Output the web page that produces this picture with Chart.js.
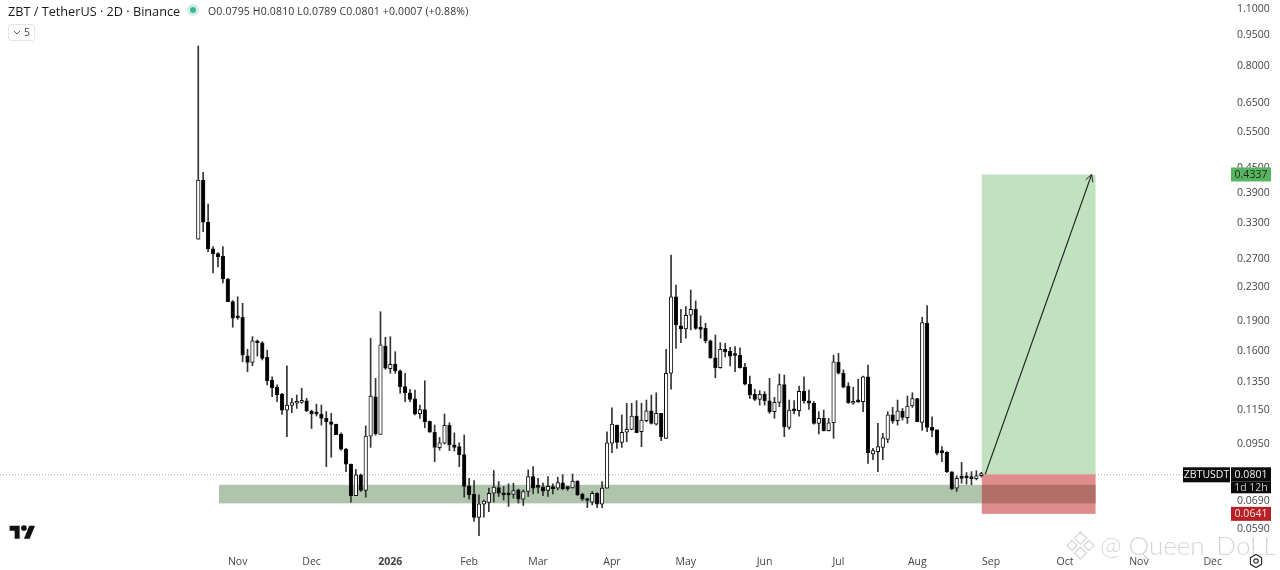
<!DOCTYPE html>
<html>
<head>
<meta charset="utf-8">
<title>ZBT / TetherUS</title>
<script src="https://cdn.jsdelivr.net/npm/chart.js@4"></script>
<style>
    html, body { margin: 0; padding: 0; background: #fff; overflow: hidden; }
    #wrap { position: relative; width: 1280px; height: 570px; font-family: "Open Sans", sans-serif; color: #222; }
    canvas { position: absolute; left: 0; top: 0; }
    .abs { position: absolute; white-space: nowrap; }
    #title { left: 8px; top: 3px; font-size: 12.7px; line-height: 17px; color: #1a1a1a; }
    #dot { left: 190px; top: 7px; width: 6px; height: 6px; border-radius: 50%; background: #3fb59a; box-shadow: 0 0 0 3px #d3efe7; }
    #ohlc { left: 208px; top: 4px; font-size: 10.5px; line-height: 15px; color: #333; letter-spacing: .15px; }
    #collapse { left: 8px; top: 24px; width: 25px; height: 15px; border: 1px solid #e4e4e4; border-radius: 3px; font-size: 10.5px; line-height: 15px; color: #444; }
    #collapse svg { position: absolute; left: 4px; top: 5px; }
    #collapse span { position: absolute; left: 15px; top: 0; }
    #mark { left: 1100px; top: 528px; font-family: Lato, sans-serif; font-weight: 300; font-size: 26px; line-height: 34px; color: #d6d6d6; letter-spacing: 0; }
</style>
</head>
<body>
<div id="wrap">
    <canvas id="priceChart" width="1280" height="570"></canvas>
    <div id="title" class="abs">ZBT / TetherUS · 2D · Binance</div>
    <div id="dot" class="abs"></div>
    <div id="ohlc" class="abs">O0.0795 H0.0810 L0.0789 C0.0801 +0.0007 (+0.88%)</div>
    <div id="collapse" class="abs"><svg width="8" height="5" viewBox="0 0 8 5" fill="none" stroke="#555" stroke-width="1"><path d="M1 1l3 3 3-3"/></svg><span>5</span></div>
    <div id="mark" class="abs">@ Queen_DoLL</div>
    <svg class="abs" style="left:9px;top:523px" width="27" height="20" viewBox="0 0 36 28"><path fill="#111" d="M14 22H7V11H0V4h14v18zM28 22h-8l7.5-18h8L28 22z"/><circle fill="#111" cx="20" cy="7" r="4"/></svg>
    <svg class="abs" style="left:1065px;top:530px" width="31" height="31" viewBox="0 0 31 31" fill="none" stroke="#dcdcdc" stroke-width="1.5"><path d="M15.5 2l6 6-6 6-6-6zM7 10.5l5 5-5 5-5-5zM24 10.5l5 5-5 5-5-5zM15.5 17l6 6-6 6-6-6z"/></svg>
    <svg class="abs" style="left:1248px;top:553px" width="16" height="16" viewBox="0 0 16 16" fill="none" stroke="#333" stroke-width="1.2"><path d="M8 1.5l5.6 3.2v6.6L8 14.5l-5.6-3.2V4.700z"/><circle cx="8" cy="8" r="2.200"/></svg>
</div>
<script>
// OHLC, one value per 2D bar
const opens = [.3011,.4205,.3313,.2851,.2776,.2740,.2407,.2118,.1946,.1940,
    .1562,.1505,.1700,.1681,.1548,.1362,.1310,.1259,.1150,.1181,
    .1195,.1201,.1211,.1144,.1133,.1125,.1098,.1077,.1061,.1005,
    .0923,.0848,.0710,.0799,.0731,.0993,.1240,.1003,.1650,.1452,
    .1489,.1435,.1312,.1268,.1225,.1127,.1154,.1079,.1015,.0930,
    .0954,.1055,.0945,.0936,.0895,.0751,.0716,.0628,.0677,.0684,
    .0720,.0743,.0720,.0717,.0715,.0734,.0696,.0727,.0791,.0748,
    .0745,.0731,.0745,.0741,.0763,.0742,.0742,.0771,.0717,.0699,
    .0685,.0720,.0677,.0741,.0954,.1057,.0959,.1015,.1032,.1112,
    .1018,.1083,.1146,.1063,.1129,.0981,.1415,.2178,.1850,.1818,
    .1962,.2029,.1823,.1823,.1700,.1543,.1460,.1620,.1601,.1568,
    .1568,.1463,.1330,.1257,.1222,.1259,.1211,.1140,.1201,.1327,
    .1043,.1154,.1146,.1278,.1211,.1195,.1067,.1098,.1024,.1071,
    .1505,.1415,.1317,.1195,.1208,.1206,.1388,.0898,.0910,.0932,
    .0975,.1119,.1083,.1144,.1102,.1177,.1227,.1073,.1875,.1043,
    .1029,.0907,.0907,.0812,.0741,.0786,.0788,.0791,.0781,.0795];
const highs = [.8944,.4391,.3673,.2888,.2792,.2888,.2416,.2131,.2178,.2099,
    .1620,.1739,.1707,.1691,.1612,.1388,.1325,.1264,.1475,.1229,
    .1252,.1301,.1229,.1150,.1190,.1183,.1140,.1129,.1063,.1012,
    .0927,.0849,.0824,.0802,.1052,.1724,.1375,.2002,.1733,.1739,
    .1598,.1442,.1415,.1293,.1288,.1183,.1357,.1081,.1057,.0986,
    .1125,.1071,.1012,.0957,.0999,.0783,.0773,.0713,.0693,.0741,
    .0818,.0769,.0748,.0759,.0762,.0737,.0734,.0821,.0836,.0783,
    .0762,.0791,.0759,.0788,.0799,.0748,.0802,.0773,.0720,.0700,
    .0727,.0722,.0769,.1018,.1165,.1057,.1119,.1195,.1195,.1213,
    .1195,.1217,.1252,.1268,.1129,.1620,.2755,.2327,.2029,.2061,
    .2262,.2127,.1955,.1875,.1707,.1755,.1681,.1675,.1638,.1644,
    .1634,.1497,.1393,.1293,.1283,.1276,.1375,.1236,.1409,.1401,
    .1217,.1213,.1317,.1388,.1288,.1206,.1140,.1150,.1098,.1568,
    .1583,.1442,.1342,.1308,.1369,.1393,.1483,.0927,.1067,.1009,
    .1140,.1168,.1217,.1161,.1245,.1268,.1229,.1940,.2072,.1107,
    .1029,.0936,.0910,.0813,.0794,.0857,.0809,.0813,.0817,.0810];
const lows = [.3011,.3143,.2808,.2490,.2575,.2353,.2118,.1834,.1918,.1510,
    .1427,.1477,.1559,.1525,.1325,.1240,.1206,.1123,.0990,.1133,
    .1161,.1195,.1140,.1037,.1112,.1057,.0836,.0882,.1001,.0918,
    .0813,.0685,.0710,.0727,.0704,.0932,.0999,.1003,.1447,.1415,
    .1415,.1264,.1206,.1206,.1119,.1098,.1041,.1015,.0860,.0918,
    .0950,.0915,.0913,.0836,.0704,.0696,.0614,.0567,.0629,.0649,
    .0685,.0707,.0693,.0668,.0700,.0681,.0672,.0707,.0717,.0720,
    .0710,.0707,.0717,.0734,.0734,.0731,.0741,.0711,.0691,.0664,
    .0674,.0664,.0664,.0741,.0905,.0927,.0932,.0962,.1029,.1012,
    .0936,.1077,.1063,.1057,.0968,.0981,.1293,.1628,.1681,.1724,
    .1807,.1812,.1724,.1681,.1539,.1380,.1456,.1551,.1475,.1427,
    .1456,.1325,.1229,.1213,.1183,.1183,.1129,.1098,.1172,.0990,
    .1032,.1125,.1112,.1195,.1154,.1063,.1005,.1022,.1022,.0981,
    .1409,.1303,.1195,.1188,.1201,.1140,.0852,.0870,.0813,.0870,
    .0957,.1067,.1057,.1087,.1067,.1168,.1077,.1026,.1018,.0990,
    .0893,.0860,.0809,.0734,.0727,.0762,.0758,.0755,.0776,.0789];
const closes = [.4205,.3313,.2851,.2776,.2729,.2407,.2118,.1929,.1935,.1568,
    .1505,.1700,.1681,.1539,.1357,.1305,.1252,.1150,.1183,.1199,
    .1204,.1211,.1144,.1125,.1125,.1098,.1077,.1061,.1001,.0923,
    .0848,.0710,.0799,.0731,.0993,.1245,.1005,.1660,.1456,.1489,
    .1435,.1312,.1268,.1222,.1125,.1154,.1077,.1015,.0932,.0957,
    .1055,.0945,.0932,.0893,.0748,.0713,.0628,.0678,.0689,.0720,
    .0745,.0720,.0713,.0713,.0731,.0696,.0727,.0791,.0741,.0744,
    .0728,.0748,.0739,.0764,.0738,.0739,.0771,.0713,.0696,.0691,
    .0720,.0677,.0741,.0957,.1063,.0959,.1015,.1032,.1112,.1012,
    .1087,.1146,.1067,.1129,.0990,.1415,.2178,.1857,.1818,.1962,
    .2029,.1823,.1812,.1697,.1543,.1460,.1620,.1598,.1559,.1564,
    .1460,.1330,.1252,.1222,.1257,.1211,.1140,.1201,.1327,.1047,
    .1150,.1146,.1278,.1211,.1195,.1067,.1098,.1024,.1071,.1510,
    .1415,.1308,.1199,.1208,.1204,.1388,.0905,.0915,.0936,.0984,
    .1120,.1081,.1146,.1104,.1177,.1227,.1077,.1882,.1043,.1026,
    .0902,.0905,.0812,.0738,.0783,.0783,.0785,.0781,.0794,.0801];

// axis labels
const priceTicks = [1.1, .95, .8, .65, .55, .45, .39, .33, .27, .23, .19, .16, .135, .115, .095, .069, .059];
const monthLabels = ['Nov', 'Dec', '2026', 'Feb', 'Mar', 'Apr', 'May', 'Jun', 'Jul', 'Aug', 'Sep', 'Oct', 'Nov', 'Dec'];
const monthBars = [8, 23, 39, 55, 69, 84, 99, 115, 130, 146, 161, 176, 191, 206];

// drawn levels
const lastPrice = .0801, stopPrice = .0641, targetPrice = .4337;
const bandTop = .0755, bandBottom = .0680;
const arrowBars = [159.8, 181.4];
const arrowPrices = [.0801, .4337];

const bars = opens.map((o, i) => i);

// zones, price line and right-hand tags
const overlayPlugin = {
    id: 'overlay',
    beforeDatasetsDraw(chart) {
        const { ctx } = chart;
        const x = chart.scales.x, y = chart.scales.y;
        const px = v => x.getPixelForValue(v), py = v => y.getPixelForValue(v);
        const toolL = px(159.1), toolR = px(182.2);

        // price line
        ctx.save();
        ctx.strokeStyle = '#a8a8a8';
        ctx.setLineDash([1, 2]);
        ctx.beginPath();
        ctx.moveTo(0, py(lastPrice) + .5);
        ctx.lineTo(1184, py(lastPrice) + .5);
        ctx.stroke();
        ctx.setLineDash([]);

        ctx.fillStyle = '#aec5ac';
        ctx.fillRect(px(4.2), py(bandTop), toolL - px(4.2), py(bandBottom) - py(bandTop));
        ctx.fillStyle = '#c1e2bf';
        ctx.fillRect(toolL, py(targetPrice), toolR - toolL, py(lastPrice) - py(targetPrice));
        ctx.fillStyle = '#e08c8c';
        ctx.fillRect(toolL, py(lastPrice), toolR - toolL, py(stopPrice) - py(lastPrice));
        ctx.fillStyle = '#b07068';
        ctx.fillRect(toolL, py(bandTop), toolR - toolL, py(bandBottom) - py(bandTop));
        ctx.restore();
    },
    afterDraw(chart) {
        const { ctx } = chart;
        const x = chart.scales.x, y = chart.scales.y;
        const py = v => y.getPixelForValue(v);

        // arrow head
        const ex = x.getPixelForValue(arrowBars[1]), ey = py(arrowPrices[1]);
        const ang = Math.atan2(ey - py(arrowPrices[0]), ex - x.getPixelForValue(arrowBars[0]));
        ctx.save();
        ctx.strokeStyle = '#222';
        ctx.lineWidth = 1;
        ctx.beginPath();
        ctx.moveTo(ex - 8 * Math.cos(ang - .5), ey - 8 * Math.sin(ang - .5));
        ctx.lineTo(ex, ey);
        ctx.lineTo(ex - 8 * Math.cos(ang + .5), ey - 8 * Math.sin(ang + .5));
        ctx.stroke();

        // price tags
        ctx.font = '10.5px "Open Sans"';
        ctx.textBaseline = 'middle';
        ctx.textAlign = 'center';
        const tag = (text, left, w, top, h, bg, fg) => {
            ctx.fillStyle = bg;
            ctx.fillRect(left, top, w, h);
            ctx.fillStyle = fg;
            ctx.fillText(text, left + w / 2, top + h / 2 + .5);
        };
        const ly = py(lastPrice), ty = py(targetPrice), sy = py(stopPrice);
        tag('0.4337', 1231, 40, ty - 7, 14, '#57b45f', '#1c2b1c');
        tag('ZBTUSDT', 1183, 47, ly - 7, 15, '#0a0a0a', '#f2f2f2');
        tag('0.0801', 1231, 40, ly - 7, 14, '#0a0a0a', '#f2f2f2');
        tag('1d 12h', 1231, 40, ly + 7, 12, '#0a0a0a', '#c8c8c8');
        tag('0.0641', 1231, 40, sy - 7, 14, '#b92025', '#f5e6e6');
        ctx.restore();
    }
};

new Chart(document.getElementById('priceChart').getContext('2d'), {
    type: 'bar',
    data: {
        datasets: [
            {
                type: 'line',
                order: 0,
                data: arrowBars.map((b, i) => ({ x: b, y: arrowPrices[i] })),
                borderColor: '#222',
                borderWidth: 1.1,
                pointRadius: 0,
                clip: false
            },
            {
                order: 1,
                grouped: false,
                barThickness: 3.6,
                minBarLength: 2,
                data: bars.map(i => ({ x: i, y: [opens[i], closes[i]] })),
                backgroundColor: bars.map(i => closes[i] >= opens[i] ? '#fff' : '#000'),
                borderColor: '#111',
                borderWidth: 1,
                borderSkipped: false
            },
            {
                order: 2,
                grouped: false,
                barThickness: 1,
                data: bars.map(i => ({ x: i, y: [lows[i], highs[i]] })),
                backgroundColor: '#333',
                borderWidth: 0
            }
        ]
    },
    options: {
        responsive: false,
        animation: false,
        events: [],
        layout: { padding: 0 },
        plugins: { legend: { display: false }, tooltip: { enabled: false } },
        scales: {
            x: {
                type: 'linear',
                offset: false,
                min: -40.26,
                max: 209.5,
                grid: { display: false, drawTicks: false },
                border: { display: false },
                afterFit: scale => { scale.height = 22; scale.paddingLeft = 0; scale.paddingRight = 0; },
                afterBuildTicks: scale => { scale.ticks = monthBars.map(v => ({ value: v })); },
                ticks: {
                    autoSkip: false,
                    maxRotation: 0,
                    padding: 8,
                    color: '#444',
                    font: ctx => ({ family: '"Open Sans"', size: 10.5, weight: ctx.tick && ctx.tick.label === '2026' ? 'bold' : 'normal' }),
                    callback: value => monthLabels[monthBars.indexOf(value)]
                }
            },
            y: {
                type: 'logarithmic',
                position: 'right',
                min: .05288,
                max: 1.159,
                grid: { display: false, drawTicks: false },
                border: { display: false },
                afterFit: scale => { scale.width = 50; scale.paddingTop = 0; scale.paddingBottom = 0; },
                afterBuildTicks: scale => { scale.ticks = priceTicks.map(v => ({ value: v })); },
                ticks: {
                    autoSkip: false,
                    padding: 7,
                    color: '#444',
                    font: { family: '"Open Sans"', size: 10.5 },
                    callback: value => Number(value).toFixed(4)
                }
            }
        }
    },
    plugins: [overlayPlugin]
});
</script>
</body>
</html>
